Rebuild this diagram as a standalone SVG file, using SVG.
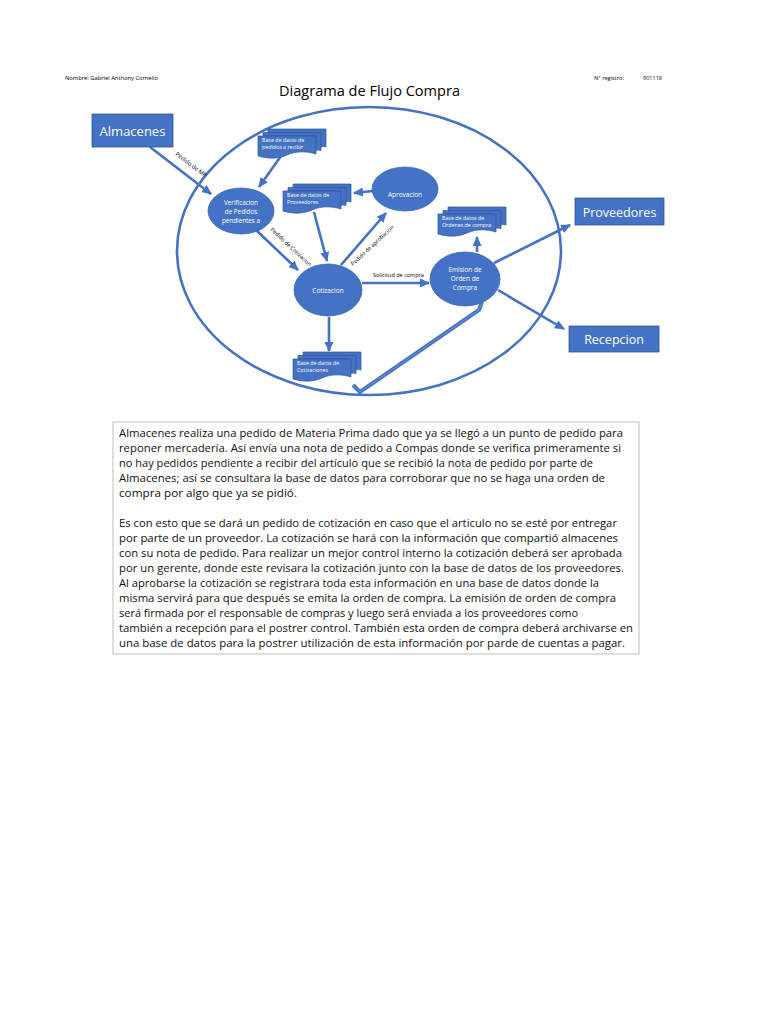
<svg xmlns="http://www.w3.org/2000/svg" xmlns:xlink="http://www.w3.org/1999/xlink" width="768" height="1024" viewBox="0 0 768 1024">
<style>
  .bg{fill:#ffffff}
  .box{fill:#4472C4;stroke:#2F5597;stroke-width:0.8}
  .node{fill:#4472C4;stroke:#3A66B5;stroke-width:0.8}
  .doc{fill:#4472C4;stroke:#2F5597;stroke-width:0.7}
  .wt{fill:#ffffff;font-family:"Open Sans","Liberation Sans",sans-serif}
  .bt{fill:#000000;font-family:"Open Sans","Liberation Sans",sans-serif}
  .conn{stroke:#4472C4;stroke-width:2.6;fill:none}
  .para{fill:#111111;font-family:"Open Sans","Liberation Sans",sans-serif;font-size:11px}
</style>
<defs>
  <marker id="arr" markerUnits="userSpaceOnUse" markerWidth="10" markerHeight="10" viewBox="0 0 10 10" refX="9" refY="5" orient="auto">
    <path d="M0,0.5 L10,5 L0,9.5 Z" fill="#4472C4"/>
  </marker>
  <g id="mdoc">
    <path class="doc" d="M10,0 H68 V18 C64,17 62,18 60,19 V3.5 H10 Z"/>
    <path class="doc" d="M5,3.5 H63 V21.5 C59,20.5 57,21.5 55,22.5 V7 H5 Z"/>
    <path class="doc" d="M0,7 H58 V25 C48,22 38,22 29,26 C20,30 10,30 0,27 Z"/>
  </g>
</defs>
<rect class="bg" x="0" y="0" width="768" height="1024"/>

<g id="header">
  <text class="bt" x="65" y="80" font-size="5.5" textLength="93" lengthAdjust="spacingAndGlyphs">Nombre: Gabriel Anthony Cornelio</text>
  <text class="bt" x="594" y="80" font-size="5.5" textLength="30" lengthAdjust="spacingAndGlyphs">N° registro:</text>
  <text class="bt" x="643" y="80" font-size="5.5" textLength="19" lengthAdjust="spacingAndGlyphs">901118</text>
  <text class="bt" x="279" y="96" font-size="14.5" textLength="181" lengthAdjust="spacingAndGlyphs">Diagrama de Flujo Compra</text>
</g>

<g id="boundary">
  <ellipse cx="369" cy="251" rx="192" ry="144" fill="none" stroke="#4472C4" stroke-width="2.6"/>
</g>

<g id="connectors">
  <line class="conn" x1="150" y1="147" x2="211" y2="194" marker-end="url(#arr)"/>
  <line class="conn" x1="281" y1="156" x2="259" y2="187" marker-end="url(#arr)"/>
  <line class="conn" x1="256" y1="230" x2="298" y2="270" marker-end="url(#arr)"/>
  <line class="conn" x1="314" y1="212" x2="327" y2="261" marker-end="url(#arr)"/>
  <line class="conn" x1="373" y1="191" x2="354" y2="193" marker-end="url(#arr)"/>
  <line class="conn" x1="341" y1="265" x2="386" y2="213" marker-end="url(#arr)"/>
  <line class="conn" x1="362" y1="283" x2="429" y2="283" marker-end="url(#arr)"/>
  <line class="conn" x1="477" y1="252" x2="477" y2="237" marker-end="url(#arr)"/>
  <line class="conn" x1="494" y1="263" x2="570" y2="225" marker-end="url(#arr)"/>
  <line class="conn" x1="498" y1="290" x2="564" y2="329" marker-end="url(#arr)"/>
  <line class="conn" x1="329" y1="317" x2="329" y2="351" marker-end="url(#arr)"/>
  <polyline points="353,385 360,392 479,310 482,302" fill="none" stroke="#4472C4" stroke-width="4" stroke-linejoin="miter"/>
  <polyline points="353,385 360,392 479,310 482,302" fill="none" stroke="#6F8FD0" stroke-width="1" stroke-linejoin="miter"/>
  <text class="bt" font-size="5.8" transform="translate(175,155) rotate(37)">Pedido de MP</text>
  <text class="bt" font-size="5.5" transform="translate(270,230) rotate(43)">Pedido de Cotizacion</text>
  <text class="bt" font-size="5.5" transform="translate(353,266) rotate(-43)">Pedido de aprobacion</text>
  <text class="bt" font-size="5.5" x="373" y="277">Solicitud de compra</text>
</g>

<g id="almacenes">
  <rect class="box" x="92" y="114" width="81" height="33"/>
  <text class="wt" x="132.5" y="135.5" font-size="13" text-anchor="middle">Almacenes</text>
</g>
<g id="proveedores">
  <rect class="box" x="575" y="198" width="89" height="27"/>
  <text class="wt" x="619.5" y="216.5" font-size="12.5" text-anchor="middle">Proveedores</text>
</g>
<g id="recepcion">
  <rect class="box" x="569" y="326" width="90" height="26"/>
  <text class="wt" x="614" y="344" font-size="12.5" text-anchor="middle">Recepcion</text>
</g>

<g id="verificacion">
  <ellipse class="node" cx="241" cy="211" rx="33" ry="23"/>
  <text class="wt" x="241" y="205" font-size="6.3" text-anchor="middle">Verificacion</text>
  <text class="wt" x="241" y="214" font-size="6.3" text-anchor="middle">de Pedidos</text>
  <text class="wt" x="241" y="223" font-size="6.3" text-anchor="middle">pendientes a</text>
</g>
<g id="aprovacion">
  <ellipse class="node" cx="405" cy="189" rx="33" ry="22"/>
  <text class="wt" x="405" y="197" font-size="6.5" text-anchor="middle">Aprovacion</text>
</g>
<g id="cotizacion">
  <ellipse class="node" cx="328" cy="290" rx="34" ry="26"/>
  <text class="wt" x="328" y="293" font-size="6.5" text-anchor="middle">Cotizacion</text>
</g>
<g id="emision">
  <ellipse class="node" cx="465" cy="279" rx="35" ry="27"/>
  <text class="wt" x="465" y="272" font-size="6.5" text-anchor="middle">Emision de</text>
  <text class="wt" x="465" y="281" font-size="6.5" text-anchor="middle">Orden de</text>
  <text class="wt" x="465" y="290" font-size="6.5" text-anchor="middle">Compra</text>
</g>

<g id="db-pedidos">
  <use xlink:href="#mdoc" href="#mdoc" x="258" y="129"/>
  <text class="wt" x="262" y="142" font-size="5.3">Base de datos de</text>
  <text class="wt" x="262" y="149" font-size="5.3">pedidos a recibir</text>
</g>
<g id="db-proveedores">
  <use xlink:href="#mdoc" href="#mdoc" x="283" y="184"/>
  <text class="wt" x="287" y="197" font-size="5.3">Base de datos de</text>
  <text class="wt" x="287" y="204" font-size="5.3">Proveedores</text>
</g>
<g id="db-ordenes">
  <use xlink:href="#mdoc" href="#mdoc" x="438" y="207"/>
  <text class="wt" x="442" y="220" font-size="5.3">Base de datos de</text>
  <text class="wt" x="442" y="227" font-size="5.3">Ordenes de compra</text>
</g>
<g id="db-cotizaciones">
  <use xlink:href="#mdoc" href="#mdoc" x="293" y="352"/>
  <text class="wt" x="297" y="365" font-size="5.3">Base de datos de</text>
  <text class="wt" x="297" y="372" font-size="5.3">Cotizaciones</text>
</g>

<g id="description">
  <rect x="113" y="422" width="526" height="232" fill="#ffffff" stroke="#BFBFBF" stroke-width="1"/>
  <text class="para" x="119" y="437" textLength="504" lengthAdjust="spacingAndGlyphs">Almacenes realiza una pedido de Materia Prima dado que ya se llegó a un punto de pedido para</text>
  <text class="para" x="119" y="452" textLength="502" lengthAdjust="spacingAndGlyphs">reponer mercadería. Así envía una nota de pedido a Compas donde se verifica primeramente si</text>
  <text class="para" x="119" y="467" textLength="474" lengthAdjust="spacingAndGlyphs">no hay pedidos pendiente a recibir del artículo que se recibió la nota de pedido por parte de</text>
  <text class="para" x="119" y="482" textLength="486" lengthAdjust="spacingAndGlyphs">Almacenes; así se consultara la base de datos para corroborar que no se haga una orden de</text>
  <text class="para" x="119" y="497" textLength="178" lengthAdjust="spacingAndGlyphs">compra por algo que ya se pidió.</text>
  <text class="para" x="119" y="527" textLength="498" lengthAdjust="spacingAndGlyphs">Es con esto que se dará un pedido de cotización en caso que el articulo no se esté por entregar</text>
  <text class="para" x="119" y="542" textLength="499" lengthAdjust="spacingAndGlyphs">por parte de un proveedor. La cotización se hará con la información que compartió almacenes</text>
  <text class="para" x="119" y="557" textLength="503" lengthAdjust="spacingAndGlyphs">con su nota de pedido. Para realizar un mejor control interno la cotización deberá ser aprobada</text>
  <text class="para" x="119" y="572" textLength="505" lengthAdjust="spacingAndGlyphs">por un gerente, donde este revisara la cotización junto con la base de datos de los proveedores.</text>
  <text class="para" x="119" y="587" textLength="480" lengthAdjust="spacingAndGlyphs">Al aprobarse la cotización se registrara toda esta información en una base de datos donde la</text>
  <text class="para" x="119" y="602" textLength="497" lengthAdjust="spacingAndGlyphs">misma servirá para que después se emita la orden de compra. La emisión de orden de compra</text>
  <text class="para" x="119" y="617" textLength="459" lengthAdjust="spacingAndGlyphs">será firmada por el responsable de compras y luego será enviada a los proveedores como</text>
  <text class="para" x="119" y="632" textLength="514" lengthAdjust="spacingAndGlyphs">también a recepción para el postrer control. También esta orden de compra deberá archivarse en</text>
  <text class="para" x="119" y="647" textLength="506" lengthAdjust="spacingAndGlyphs">una base de datos para la postrer utilización de esta información por parde de cuentas a pagar.</text>
</g>
</svg>
